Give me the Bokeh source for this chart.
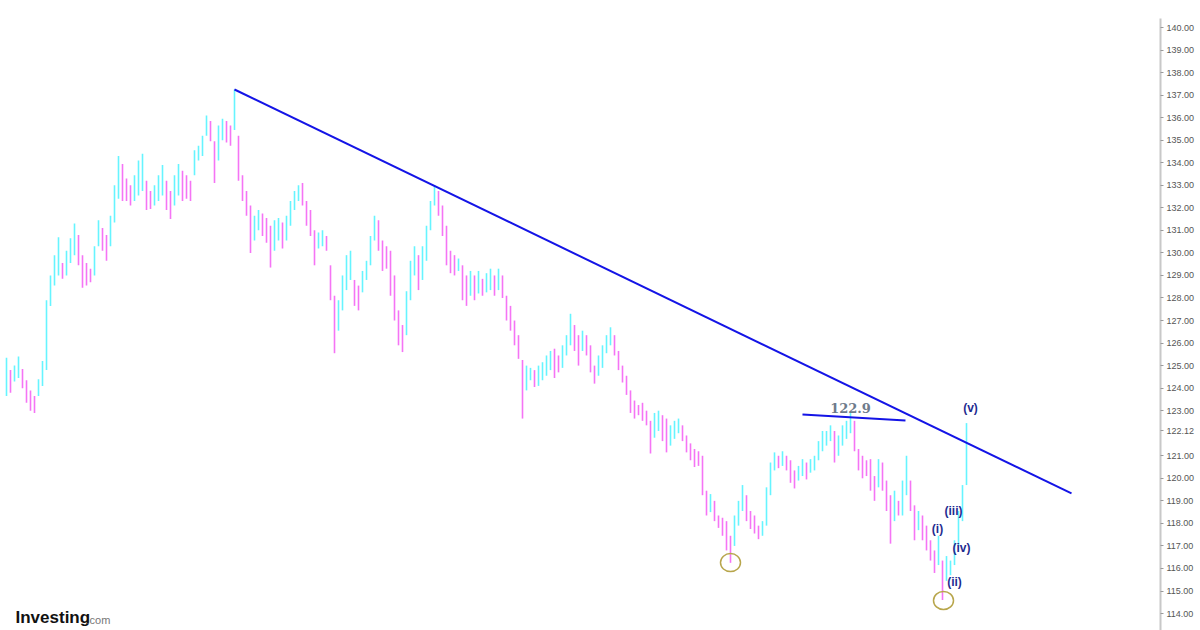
from bokeh.plotting import figure
from bokeh.models import Range1d, FixedTicker, PrintfTickFormatter, Label, ColumnDataSource
from bokeh.core.properties import value
from bokeh.embed import file_html
from bokeh.resources import INLINE

# ---- data (daily EUR/JPY bars: highs and lows) ----
highs = [125.35,124.8,125.0,125.4,124.85,124.35,123.9,123.65,124.4,125.2,
         127.9,129.0,129.9,130.7,129.55,130.1,130.65,131.3,130.8,129.9,
         129.55,129.3,130.3,131.45,131.1,130.8,131.65,133.0,134.3,133.95,
         133.3,133.0,133.45,134.1,134.4,133.2,132.75,133.0,133.45,133.9,
         133.2,132.75,133.45,133.95,133.65,133.45,133.2,134.55,134.75,135.2,
         136.1,135.85,134.95,135.65,135.95,135.85,135.65,137.25,135.2,133.45,
         132.75,132.1,131.65,131.9,131.75,131.55,131.2,131.45,131.55,131.35,
         131.65,132.3,132.75,133.0,133.1,132.3,131.9,131.0,130.9,131.0,
         130.75,129.45,128.1,127.9,129.0,129.9,130.1,128.8,128.55,129.2,
         129.65,130.75,131.65,131.45,130.55,130.3,130.1,129.0,127.45,126.8,
         128.3,129.65,130.3,129.9,130.3,131.2,132.3,133.0,132.75,132.1,
         131.2,130.1,129.9,129.75,129.45,129.0,129.2,129.0,129.2,128.85,
         129.1,129.3,129.0,129.3,129.0,128.1,127.65,127.0,126.35,125.25,
         125.0,124.9,124.8,125.0,125.15,125.45,125.65,125.75,125.45,125.9,
         126.35,127.3,126.8,126.35,126.55,126.35,125.9,125.0,125.45,125.9,
         126.35,126.7,126.35,125.65,125.0,124.55,123.9,123.45,123.25,123.35,
         123.0,122.55,122.9,123.0,122.8,122.65,122.35,122.55,122.65,122.35,
         121.9,121.55,121.3,121.2,121.0,119.45,119.3,119.0,118.35,118.25,
         118.1,117.45,118.35,119.0,119.7,119.25,118.55,118.35,117.9,118.1,
         119.6,120.7,121.15,121.0,121.2,121.0,120.8,120.35,120.55,120.85,
         120.7,120.85,121.0,121.65,122.1,122.1,122.35,122.1,121.9,122.35,
         122.55,122.9,122.55,121.3,121.0,120.8,120.85,120.1,120.85,120.7,
         119.9,119.25,119.45,119.0,119.9,121.0,119.9,118.8,118.55,118.35,
         117.9,117.25,116.8,117.45,116.35,116.55,116.35,117.25,118.55,119.7,
         122.45]
lows = [123.65,123.8,124.3,124.45,124.0,123.35,123.0,122.9,123.65,124.1,
        124.8,127.65,128.55,129.0,128.85,129.0,129.55,129.9,129.45,128.45,
        128.55,128.7,129.0,130.3,130.1,129.65,130.3,131.35,132.4,132.3,
        132.3,132.1,132.3,132.55,132.75,131.9,131.95,132.1,132.3,132.55,
        131.9,131.5,132.1,132.55,132.3,132.4,132.3,133.45,134.1,134.3,
        135.2,134.95,133.1,134.1,135.0,134.9,134.75,135.45,133.2,132.3,
        131.65,130.0,130.55,131.0,130.75,130.45,129.35,130.1,130.55,130.2,
        130.55,131.2,131.9,132.3,132.1,131.2,130.75,129.45,130.2,130.3,
        130.1,127.9,125.55,126.55,127.45,128.35,128.8,127.65,127.45,128.25,
        128.8,129.45,130.55,130.1,129.2,129.3,128.1,127.0,125.9,125.6,
        126.35,127.9,129.0,128.35,128.8,129.65,131.0,132.1,131.65,130.75,
        129.45,129.1,129.0,129.2,127.9,127.65,128.1,127.9,128.2,128.1,
        128.25,128.35,128.1,128.35,128.0,127.0,126.55,125.9,125.3,122.65,
        123.9,124.35,124.05,124.1,124.35,124.55,124.8,124.45,124.7,124.9,
        125.45,125.9,125.65,125.0,125.65,125.45,124.7,124.2,124.55,124.9,
        125.55,125.9,125.45,124.8,124.25,123.7,122.9,122.65,122.8,122.55,
        122.35,121.1,121.8,122.1,121.65,121.15,121.45,121.75,122.0,121.65,
        121.15,120.8,120.5,120.55,119.25,118.35,118.5,118.1,117.8,117.45,
        116.8,116.25,117.0,117.9,118.55,118.1,117.75,117.55,117.3,117.45,
        117.9,119.25,120.35,120.45,120.55,120.35,119.8,119.55,119.9,120.1,
        119.95,120.25,120.35,120.8,121.2,121.45,121.65,120.7,121.0,121.45,
        121.75,122.0,121.2,120.35,120.0,120.1,119.45,119.0,119.6,119.45,
        118.55,117.1,118.1,118.35,118.35,119.25,118.55,117.25,117.7,117.25,
        116.8,116.35,115.8,116.15,114.6,115.45,115.7,116.15,117.0,118.1,
        119.7]
last_close = 122.12
# the 122.00 tick is hidden behind the last-price tag in the reference
tick_values = [114,115,116,117,118,119,120,121,last_close,123,124,125,126,127,
               128,129,130,131,132,133,134,135,136,137,138,139,140]

# trend line and resistance line (bar index, price)
trend_x = [57, 266.25]
trend_y = [137.25, 119.33]
res_x = [199, 224.75]
res_y = [122.83, 122.56]
res_label = "122.9"
res_label_pos = (211, 123.10)

wave_labels = ["(i)", "(ii)", "(iii)", "(iv)", "(v)"]
wave_x = [232.75, 237, 236.75, 238.75, 241]
wave_y = [117.77, 115.42, 118.53, 116.89, 123.10]

circle_x = [181, 234.25]
circle_y = [116.26, 114.58]

# ---- build ----
n = len(highs)
idx = list(range(n))
mids = [(h + l) / 2 for h, l in zip(highs, lows)]
colors = []
for i in range(n):
    up = i == 0 or mids[i] >= mids[i - 1]
    colors.append("#66f4ff" if up else "#f574f5")

src = ColumnDataSource(dict(x=idx, hi=highs, lo=lows, color=colors))

FW, FH = 1160, 612
X0 = -1.5
p = figure(frame_width=FW, frame_height=FH,
           x_range=Range1d(X0, X0 + FW / 4.0),
           y_range=Range1d(140.0 - 603.0 / 22.54, 140.4),
           output_backend="svg", toolbar_location=None,
           x_axis_location=None, y_axis_location="right",
           min_border_left=0, min_border_top=18, min_border_bottom=0,
           min_border_right=40,
           background_fill_color="white", border_fill_color="white",
           outline_line_color=None)
p.grid.visible = False

ax = p.yaxis[0]
ax.ticker = FixedTicker(ticks=tick_values)
ax.formatter = PrintfTickFormatter(format="%.2f")
ax.axis_line_color = "#c8c8c8"
ax.axis_line_width = 2
ax.major_tick_out = 3
ax.major_tick_in = 0
ax.major_tick_line_color = "#9a9a9a"
ax.minor_tick_out = 0
ax.minor_tick_in = 0
ax.major_label_text_font = "Liberation Sans"
ax.major_label_text_font_size = "9px"
ax.major_label_text_color = "#555555"
ax.major_label_standoff = 3

p.segment(x0="x", y0="lo", x1="x", y1="hi", color="color", line_width=1.6, source=src)

# trend lines
p.line(trend_x, trend_y, line_color="#1414e6", line_width=2)
p.line(res_x, res_y, line_color="#1414e6", line_width=2)

p.text(x=[res_label_pos[0]], y=[res_label_pos[1]], text=[res_label],
       text_font=value("DejaVu Serif"), text_font_style="bold",
       text_font_size="13px", text_color="#6e7b8b",
       text_align="center", text_baseline="middle")

p.text(x=wave_x, y=wave_y, text=wave_labels,
       text_font=value("Liberation Sans"), text_font_style="bold",
       text_font_size="12px", text_color="#1f2c90",
       text_align="center", text_baseline="middle")

p.ellipse(x=circle_x, y=circle_y, width=20, height=18,
          width_units="screen", height_units="screen",
          fill_alpha=0, line_color="#b8a64c", line_width=1.5)

# title
p.add_layout(Label(x=10, y=FH + 8, x_units="screen", y_units="screen",
                   text="EUR/JPY, D", text_font="Liberation Serif",
                   text_font_size="13px", text_color="#333333",
                   text_baseline="middle", text_align="left"))

# last price tag over the axis tick label (HTML annotation is not clipped to the frame)
try:
    from bokeh.models import HTMLLabel
    tag = HTMLLabel(x=FW + 2, y=last_close, x_units="screen", y_units="data",
                    text="%.2f" % last_close, text_font="Liberation Sans",
                    text_font_style="bold", text_font_size="9px",
                    text_color="#ffffff", background_fill_color="#3f66e0",
                    background_fill_alpha=1.0,
                    text_baseline="middle", text_align="left")
    try:
        tag.padding = 2
    except Exception:
        pass
    p.add_layout(tag)
except Exception:
    pass

# watermark logo
p.add_layout(Label(x=15, y=13, x_units="screen", y_units="screen",
                   text="Investing", text_font="Liberation Sans",
                   text_font_style="bold", text_font_size="17px",
                   text_color="#111111", text_baseline="middle"))
p.add_layout(Label(x=86, y=11, x_units="screen", y_units="screen",
                   text=".com", text_font="Liberation Sans",
                   text_font_size="11px", text_color="#777777",
                   text_baseline="middle"))

open("out.html", "w").write(file_html(p, INLINE))
